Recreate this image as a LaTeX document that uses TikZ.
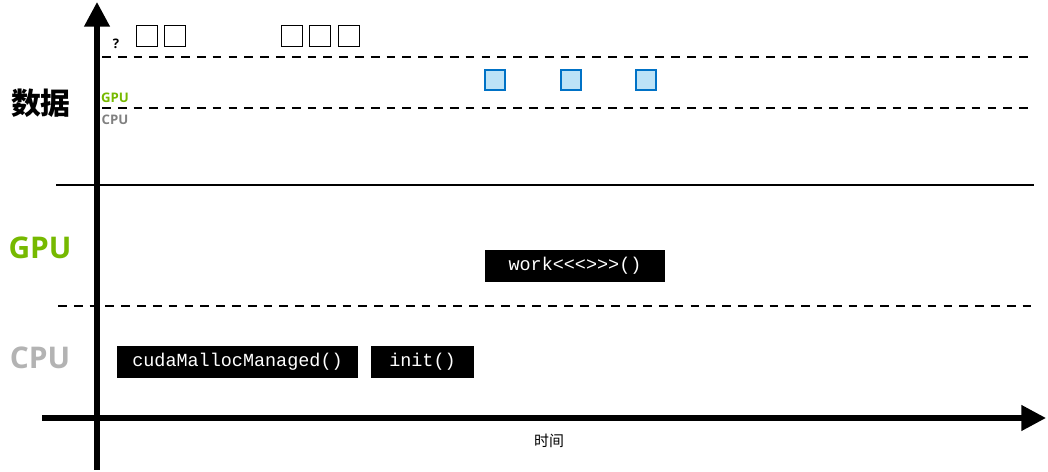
\documentclass[tikz,border=0pt]{standalone}
\usepackage{fontspec}
\setsansfont{Open Sans}
\setmonofont{Liberation Mono}
\newfontfamily\cjk{Noto Sans CJK SC}
\usetikzlibrary{positioning,arrows.meta}
\definecolor{nvgreen}{HTML}{76B900}
\definecolor{cpugray}{HTML}{B3B3B3}
\definecolor{memblue}{HTML}{0072C6}
\definecolor{memfill}{HTML}{BDE3F7}

\begin{document}
\begin{tikzpicture}[x=0.02cm, y=-0.02cm, thick]

        % Styles
        \tikzset{
          axis/.style = {line width=3pt, -{Triangle[length=14pt, width=14pt]}},
          lane/.style = {line width=0.8pt},
          sublane/.style = {line width=0.8pt, dashed, dash pattern=on 5pt off 4pt},
          call/.style = {fill=black, text=white, font=\ttfamily\fontsize{10.5}{10.5}\selectfont, minimum height=32*0.02cm, inner sep=0pt},
          tofu/.style = {draw, line width=0.8pt, minimum size=21*0.02cm, inner sep=0pt},
          page/.style = {draw=memblue, fill=memfill, line width=1.5pt, minimum size=20*0.02cm, inner sep=0pt},
          lanelabel/.style = {font=\sffamily\bfseries\fontsize{17}{17}\selectfont},
          tiny/.style = {font=\sffamily\bfseries\fontsize{7.5}{7.5}\selectfont}
        }
        \useasboundingbox (0,0) rectangle (1048,472);

        % Coordinates
        \coordinate (ybot) at (97,470);
        \coordinate (ytop) at (97,2);
        \coordinate (xleft) at (42,418);
        \coordinate (xright) at (1046,418);
        \coordinate (sa) at (56,185);   \coordinate (sb) at (1034,185);
        \coordinate (da) at (58,306);   \coordinate (db) at (1032,306);
        \coordinate (ga) at (102,57);   \coordinate (gb) at (1034,57);
        \coordinate (ca) at (102,108);  \coordinate (cb) at (1034,108);

        % Lanes and axes
        \draw[lane] (sa) -- (sb);
        \draw[sublane] (da) -- (db);
        \draw[sublane] (ga) -- (gb);
        \draw[sublane] (ca) -- (cb);
        \draw[axis] (ybot) -- (ytop);
        \draw[axis] (xleft) -- (xright);

        % Labels
        \node[font=\cjk\bfseries\fontsize{17}{17}\selectfont] (data) at (41,103) {数据};
        \node[lanelabel, text=nvgreen] (gpu) at (40,248) {GPU};
        \node[lanelabel, text=cpugray] (cpu) at (40,358) {CPU};
        \node[tiny, text=nvgreen] (gpusmall) at (115,98) {GPU};
        \node[tiny, text=gray] (cpusmall) at (115,120) {CPU};
        \node[tiny, text=black] (unknown) at (116,44) {?};
        \node[font=\cjk\fontsize{8.5}{8.5}\selectfont] (time) at (549,441) {时间};

        % Empty glyph boxes
        \foreach \x [count=\i] in {147,175,292,320,349}
          \node[tofu] (box\i) at (\x,36) {};

        % Pages on the GPU
        \foreach \x [count=\i] in {495,571,646}
          \node[page] (page\i) at (\x,80) {};

        % Calls
        \node[call, minimum width=180*0.02cm] (work) at (575,266) {work<<<>>>()};
        \node[call, minimum width=241*0.02cm] (malloc) at (237.5,362) {cudaMallocManaged()};
        \node[call, minimum width=103*0.02cm] (init) at (422.5,362) {init()};

\end{tikzpicture}
\end{document}
